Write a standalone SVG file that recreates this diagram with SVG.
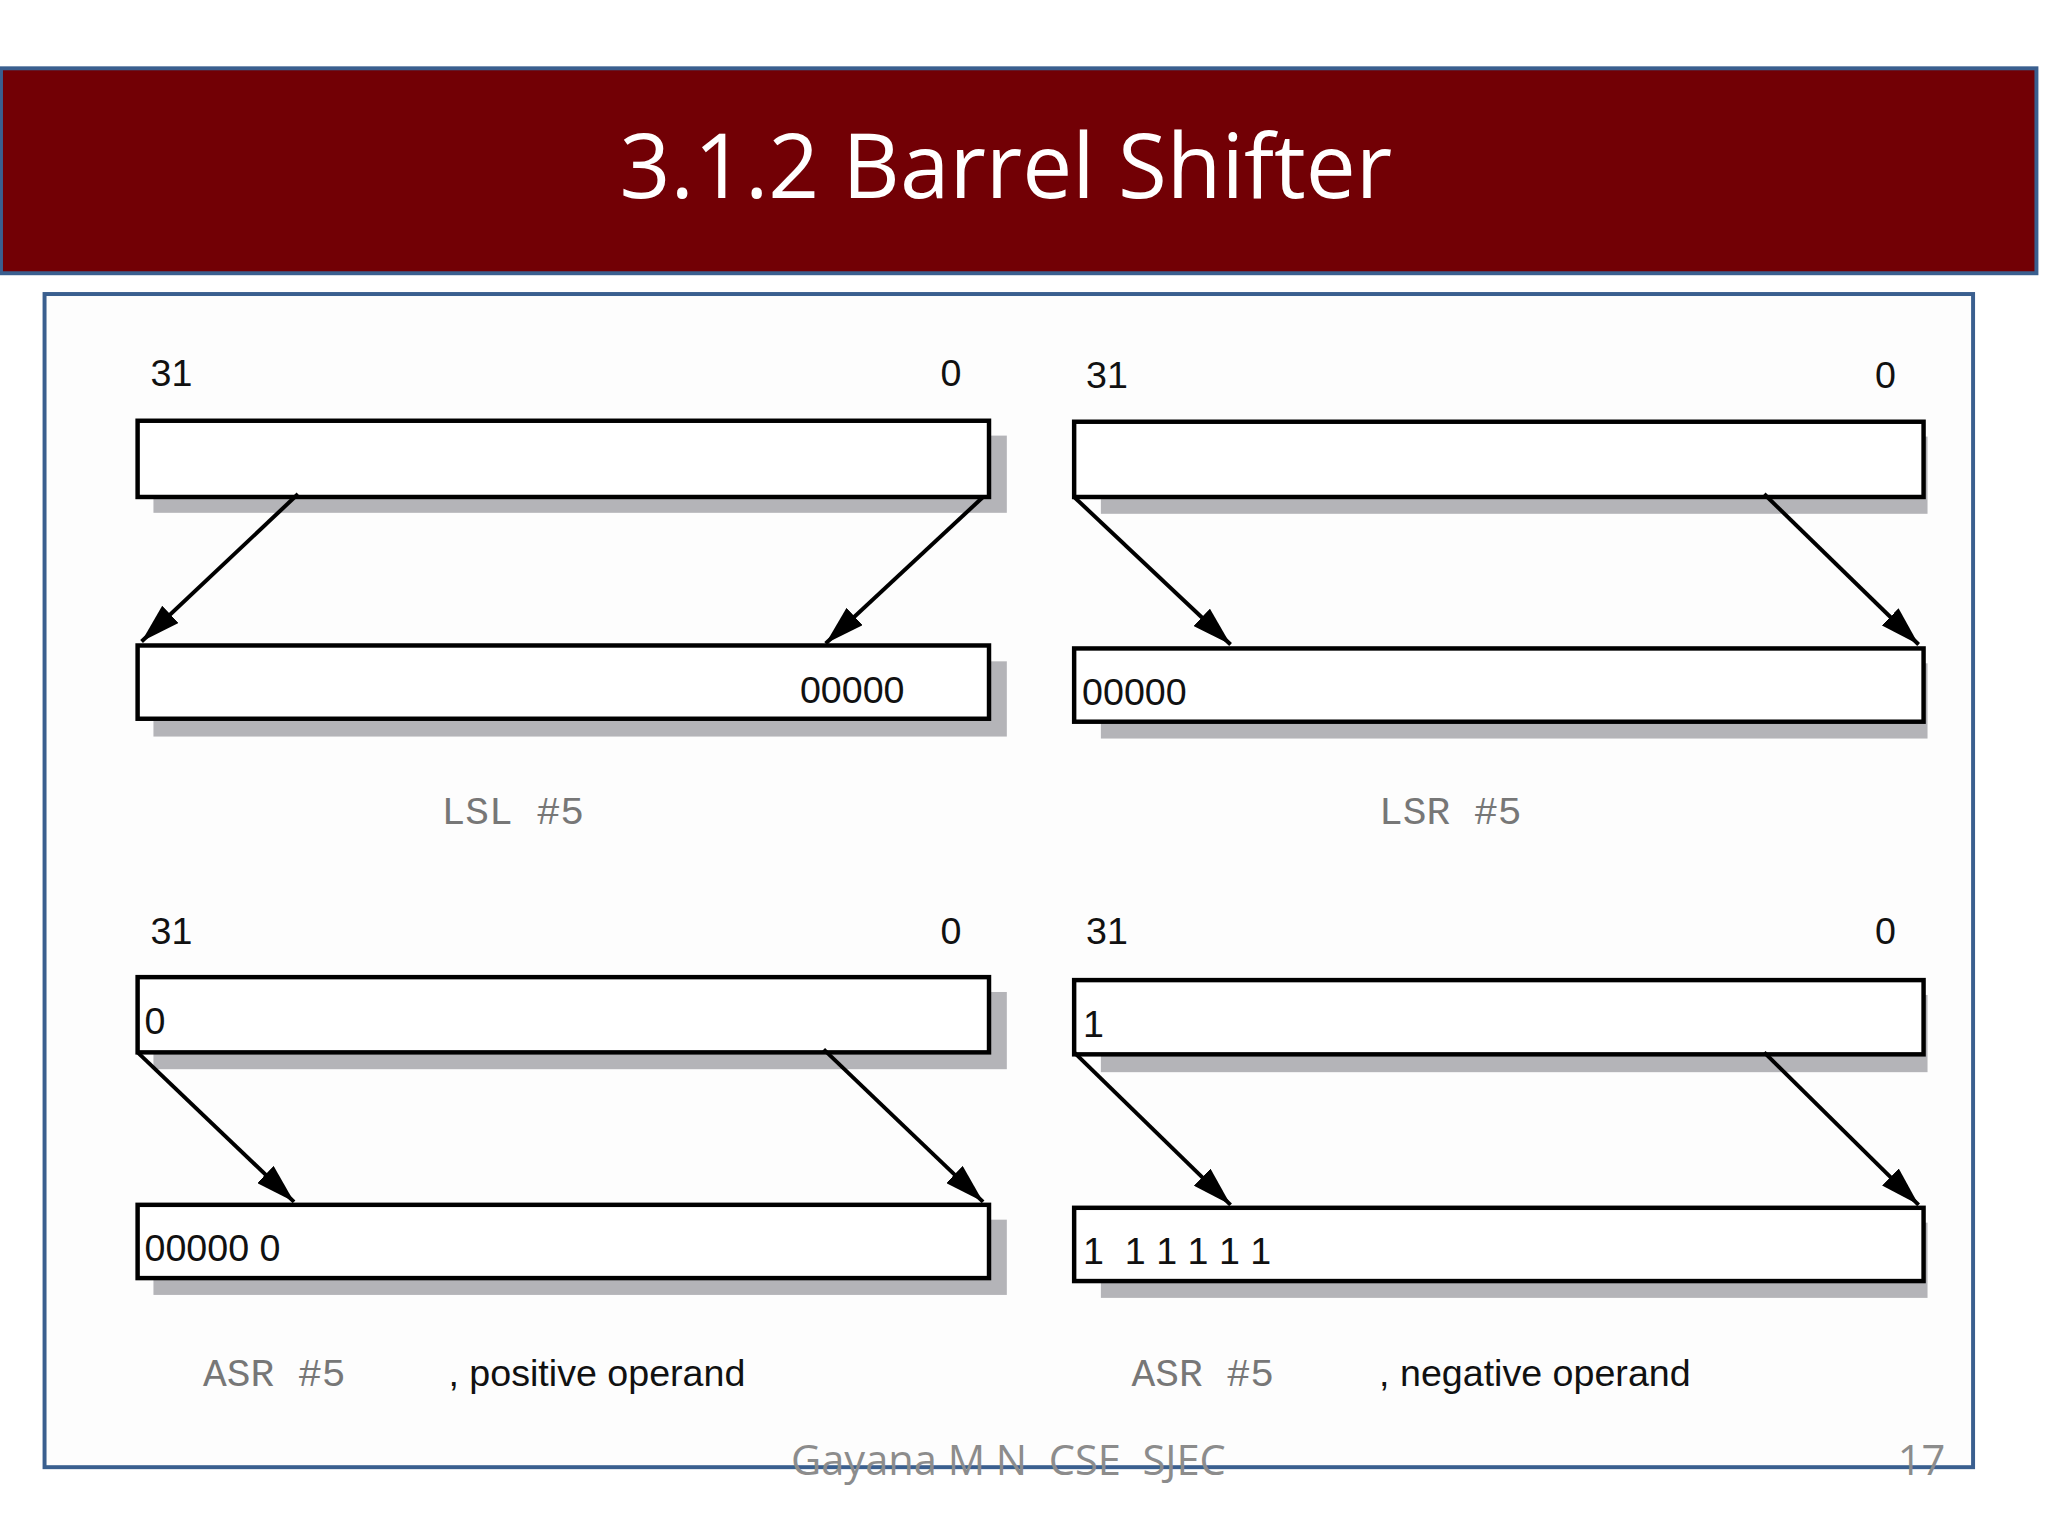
<svg xmlns="http://www.w3.org/2000/svg" width="2048" height="1536" viewBox="0 0 2048 1536">
<defs>
<marker id="ah" viewBox="0 0 40 24" refX="40" refY="12" markerWidth="40" markerHeight="24" markerUnits="userSpaceOnUse" orient="auto">
<path d="M0,0 L40,12 L0,24 z" fill="#000"/>
</marker>
<style>
.box{fill:#fff;stroke:#000;stroke-width:4.5}
.sh{fill:#b4b4b8}
.n{font-family:"Liberation Sans",Arial,sans-serif;font-size:38px;fill:#111}
.m{font-family:"Liberation Mono","Courier New",monospace;font-size:40px;fill:#777}
.a{stroke:#000;stroke-width:4;fill:none;marker-end:url(#ah)}
</style>
</defs>
<rect width="2048" height="1536" fill="#fff"/>
<g transform="scale(0.99)">
<g id="title">
<rect x="1" y="69" width="2056" height="207" fill="#720005" stroke="#3a5f8f" stroke-width="4"/>
<text x="1016" y="200" text-anchor="middle" font-family="Open Sans,sans-serif" font-size="90" fill="#fff">3.1.2 Barrel Shifter</text>
</g>
<rect x="45" y="297" width="1948" height="1185" fill="#fdfdfd" stroke="#3a5f8f" stroke-width="4"/>
<g id="lsl">
<rect class="sh" x="155" y="440" width="862" height="78"/>
<rect class="box" x="139" y="425" width="860" height="77"/>
<rect class="sh" x="155" y="668" width="862" height="76"/>
<rect class="box" x="139" y="652" width="860" height="74"/>
<text class="n" x="152" y="390">31</text><text class="n" x="950" y="390">0</text>
<text class="n" x="808" y="710">00000</text>
<text class="m" x="446" y="832">LSL #5</text>
</g>
<g id="lsr">
<rect class="sh" x="1112" y="441" width="835" height="78"/>
<rect class="box" x="1085" y="426" width="858" height="76"/>
<rect class="sh" x="1112" y="670" width="835" height="76"/>
<rect class="box" x="1085" y="655" width="858" height="74"/>
<text class="n" x="1097" y="392">31</text><text class="n" x="1894" y="392">0</text>
<text class="n" x="1093" y="712">00000</text>
<text class="m" x="1393" y="832">LSR #5</text>
</g>
<g id="asrp">
<rect class="sh" x="155" y="1002" width="862" height="78"/>
<rect class="box" x="139" y="987" width="860" height="76"/>
<rect class="sh" x="155" y="1232" width="862" height="76"/>
<rect class="box" x="139" y="1217" width="860" height="74"/>
<text class="n" x="152" y="954">31</text><text class="n" x="950" y="954">0</text>
<text class="n" x="146" y="1044">0</text>
<text class="n" x="146" y="1274">00000 0</text>
<text class="m" x="205" y="1400">ASR #5</text>
<text class="n" x="453" y="1400">, positive operand</text>
</g>
<g id="asrn">
<rect class="sh" x="1112" y="1005" width="835" height="78"/>
<rect class="box" x="1085" y="990" width="858" height="75"/>
<rect class="sh" x="1112" y="1235" width="835" height="76"/>
<rect class="box" x="1085" y="1220" width="858" height="74"/>
<text class="n" x="1097" y="954">31</text><text class="n" x="1894" y="954">0</text>
<text class="n" x="1094" y="1047">1</text>
<text class="n" x="1094" y="1277" xml:space="preserve">1  1 1 1 1 1</text>
<text class="m" x="1143" y="1400">ASR #5</text>
<text class="n" x="1393" y="1400">, negative operand</text>
</g>
<g id="connectors">
<line class="a" x1="301" y1="499" x2="143" y2="648"/>
<line class="a" x1="993" y1="502" x2="834" y2="650"/>
<line class="a" x1="1085" y1="502" x2="1243" y2="651"/>
<line class="a" x1="1782" y1="499" x2="1938" y2="651"/>
<line class="a" x1="139" y1="1063" x2="297" y2="1214"/>
<line class="a" x1="832" y1="1060" x2="993" y2="1214"/>
<line class="a" x1="1085" y1="1063" x2="1243" y2="1217"/>
<line class="a" x1="1782" y1="1063" x2="1938" y2="1217"/>
</g>
<g id="footer">
<text x="799" y="1490" font-family="Open Sans,sans-serif" font-size="42" fill="#8c8c8c" xml:space="preserve">Gayana M N  CSE  SJEC</text>
<text x="1917" y="1490" font-family="Open Sans,sans-serif" font-size="42" fill="#8c8c8c">17</text>
</g>
</g>
</svg>
